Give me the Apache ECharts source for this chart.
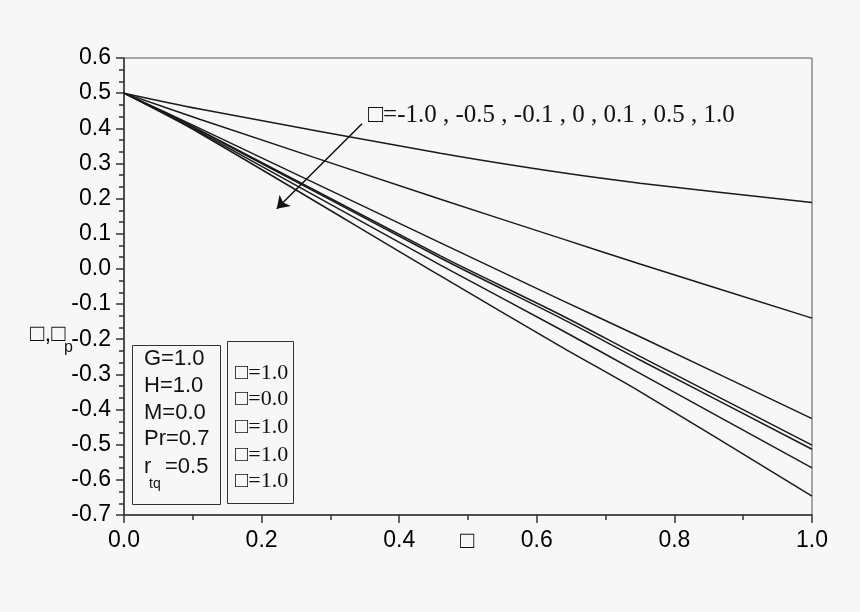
<!DOCTYPE html>
<html>
<head>
<meta charset="utf-8">
<style>
  html, body { margin: 0; padding: 0; background: #f7f7f7; }
  #main { width: 860px; height: 612px; }
</style>
</head>
<body>
<div id="main"></div>
<script src="https://cdn.jsdelivr.net/npm/echarts@6/dist/echarts.min.js"></script>
<script>
var xs = [0, 0.11, 0.46, 0.635, 0.75, 1.0];
var curve1 = [0.5, 0.455, 0.329, 0.274, 0.244, 0.189];
var curve2 = [0.5, 0.426, 0.198, 0.087, 0.014, -0.140];
var curve3 = [0.5, 0.400, 0.074, -0.088, -0.193, -0.426];
var curve4 = [0.5, 0.395, 0.037, -0.131, -0.249, -0.501];
var curve5 = [0.5, 0.393, 0.031, -0.140, -0.259, -0.513];
var curve6 = [0.5, 0.389, 0.011, -0.173, -0.297, -0.566];
var curve7 = [0.5, 0.386, -0.020, -0.221, -0.349, -0.646];
var curves = [curve1, curve2, curve3, curve4, curve5, curve6, curve7];

// arrow (data coords)
var arrowFrom = [0.346, 0.413];
var arrowTo = [0.222, 0.171];

// annotation texts
var xiText = '\u25A1=-1.0 , -0.5 , -0.1 , 0 , 0.1 , 0.5 , 1.0';
var paramLines = ['G=1.0', 'H=1.0', 'M=0.0', 'Pr=0.7'];
var symLines = ['\u25A1=1.0', '\u25A1=0.0', '\u25A1=1.0', '\u25A1=1.0', '\u25A1=1.0'];

var chart = echarts.init(document.getElementById('main'));

var sans = 'Liberation Sans, Arial, sans-serif';
var serif = 'Liberation Serif, Times New Roman, serif';

var series = curves.map(function (c, i) {
    var s = {
        type: 'line',
        data: c.map(function (v, k) { return [xs[k], v]; }),
        symbol: 'none',
        smooth: 0.3,
        silent: true,
        lineStyle: { color: '#1a1a1a', width: 1.5 }
    };
    if (i === 0) {
        s.markLine = {
            silent: true,
            symbol: ['none', 'arrow'],
            symbolSize: 12,
            label: { show: false },
            lineStyle: { color: '#111', width: 1.5, type: 'solid' },
            data: [[{ coord: arrowFrom }, { coord: arrowTo }]]
        };
    }
    return s;
});

var graphics = [];
// top label
graphics.push({ type: 'text', left: 368, top: 103, style: { text: xiText, font: '25px ' + serif, fill: '#111' } });
// y axis name
graphics.push({ type: 'text', left: 30, top: 322, style: { text: '\u25A1,\u25A1', font: '24px ' + sans, fill: '#111' } });
graphics.push({ type: 'text', left: 64, top: 340, style: { text: 'p', font: '16px ' + sans, fill: '#111' } });
// x axis name
graphics.push({ type: 'text', left: 460, top: 529, style: { text: '\u25A1', font: '24px ' + sans, fill: '#111' } });

// parameter box
graphics.push({ type: 'rect', shape: { x: 132.5, y: 345.5, width: 88, height: 159 }, style: { fill: 'none', stroke: '#333', lineWidth: 1 } });
var rowY = [359, 385.5, 412.5, 439];
paramLines.forEach(function (t, i) {
    graphics.push({ type: 'text', x: 144, y: rowY[i], style: { text: t, font: '22px ' + sans, fill: '#111', verticalAlign: 'middle' } });
});
graphics.push({ type: 'text', x: 144, y: 467, style: { text: 'r', font: '22px ' + sans, fill: '#111', verticalAlign: 'middle' } });
graphics.push({ type: 'text', x: 149, y: 484, style: { text: 'tq', font: '14px ' + sans, fill: '#111', verticalAlign: 'middle' } });
graphics.push({ type: 'text', x: 165, y: 467, style: { text: '=0.5', font: '22px ' + sans, fill: '#111', verticalAlign: 'middle' } });

// symbol box
graphics.push({ type: 'rect', shape: { x: 227.5, y: 341.5, width: 66, height: 162 }, style: { fill: 'none', stroke: '#333', lineWidth: 1 } });
var symY = [373, 399, 427.5, 455, 481.5];
symLines.forEach(function (t, i) {
    graphics.push({ type: 'text', x: 235, y: symY[i], style: { text: t, font: '22px ' + serif, fill: '#111', verticalAlign: 'middle' } });
});

var option = {
    backgroundColor: '#f7f7f7',
    animation: false,
    grid: {
        left: 124, right: 48, top: 58, bottom: 97,
        show: true, borderColor: '#555', borderWidth: 1, backgroundColor: 'transparent'
    },
    xAxis: {
        type: 'value', min: 0, max: 1, interval: 0.2,
        axisLine: { show: true, onZero: false, lineStyle: { color: '#333', width: 1.5 } },
        axisTick: { show: true, inside: false, length: 8, lineStyle: { color: '#333', width: 1.5 } },
        minorTick: { show: true, splitNumber: 2, length: 5, lineStyle: { color: '#333', width: 1.5 } },
        splitLine: { show: false },
        axisLabel: {
            margin: 14, color: '#000', fontSize: 23, fontFamily: sans,
            formatter: function (v) { return v.toFixed(1); }
        }
    },
    yAxis: {
        type: 'value', min: -0.7, max: 0.6, interval: 0.1,
        axisLine: { show: true, onZero: false, lineStyle: { color: '#333', width: 1.5 } },
        axisTick: { show: true, inside: false, length: 8, lineStyle: { color: '#333', width: 1.5 } },
        minorTick: { show: true, splitNumber: 3, length: 5, lineStyle: { color: '#333', width: 1.5 } },
        splitLine: { show: false },
        axisLabel: {
            margin: 13, color: '#000', fontSize: 23, fontFamily: sans,
            formatter: function (v) { return (Math.abs(v) < 1e-9 ? 0 : v).toFixed(1); }
        }
    },
    series: series,
    graphic: graphics
};
chart.setOption(option);
</script>
</body>
</html>
